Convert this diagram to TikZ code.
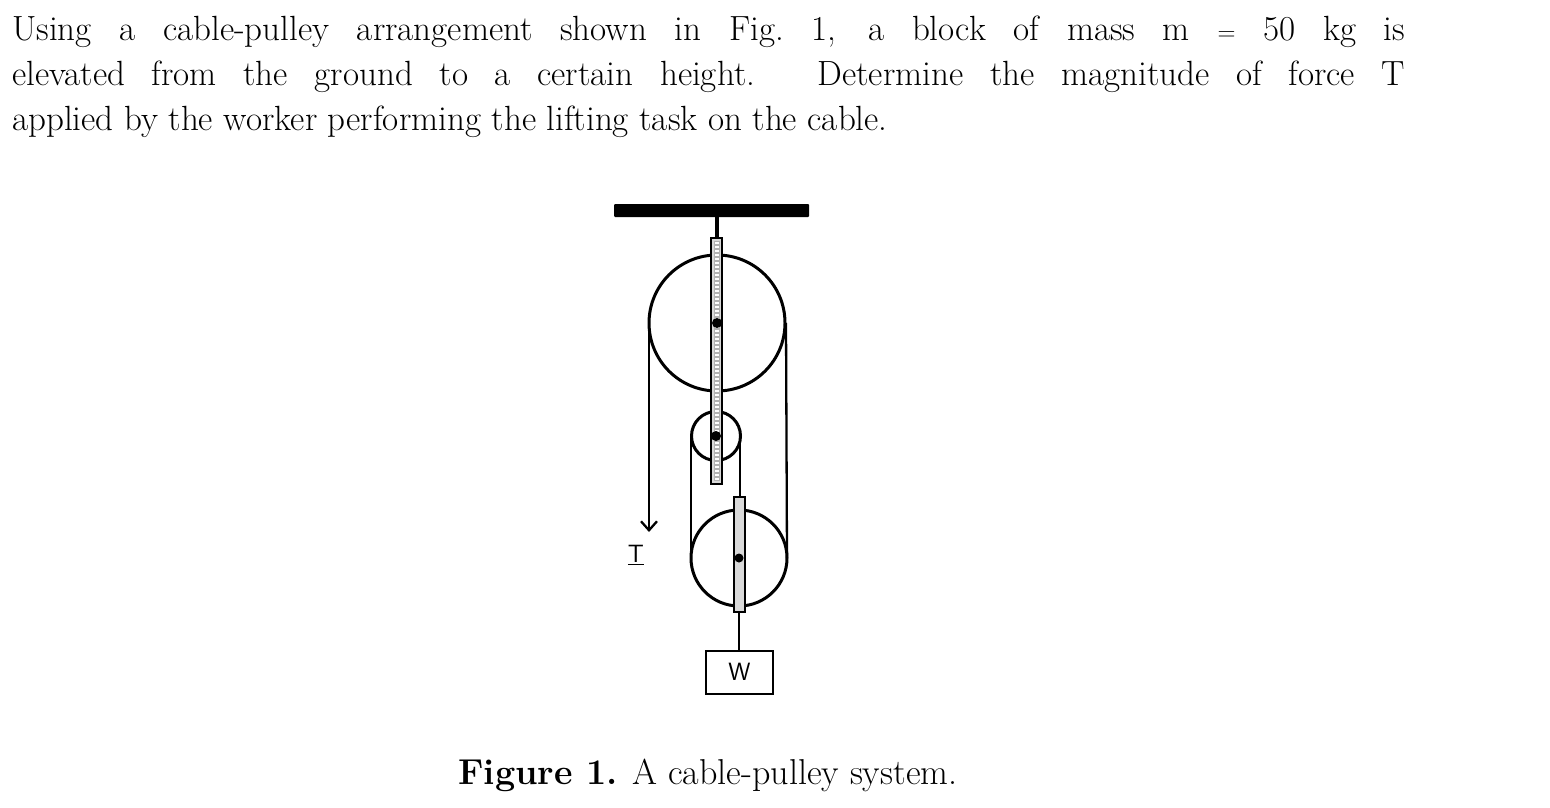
\documentclass[tikz,border=0pt]{standalone}
\usepackage{fontspec}
\usetikzlibrary{arrows.meta}
\begin{document}
\begin{tikzpicture}[x=1pt,y=-1pt,
  ln/.style={line width=3pt},
  rope/.style={line width=2.3pt},
  strip/.style={draw=black,line width=2.2pt},
  dot/.style={circle,fill=black,inner sep=0pt,minimum size=10pt}]
\useasboundingbox (0,0) rectangle (1550,808);
\node[anchor=north west,text width=1393pt,align=justify,inner sep=0pt,font=\fontsize{35}{45}\selectfont] (txt) at (12,16)
{Using a cable-pulley arrangement shown in Fig.~1, a block of mass m $=$ 50 kg is\linebreak elevated from the ground to a certain height. Determine the magnitude of force T\linebreak applied by the worker performing the lifting task on the cable.};
% ceiling
\fill[rounded corners=1pt] (614,204) rectangle (809,217);
\draw[line width=4pt] (717,217) -- (717,240);
% ropes
\draw[rope,-{Straight Barb[length=9pt,width=16pt,line width=2.3pt]}] (649,323) -- (649,532);
\draw[rope] (786,323) -- (787,558);
\draw[rope] (691,436) -- (691,558);
\draw[rope] (740,436) -- (740,497);
% pulleys
\draw[ln] (717,323) circle (68);
\draw[ln] (716,436) circle (24.5);
\draw[ln] (739,558) circle (48);
% strips
\draw[strip,fill=gray!30] (711,238) rectangle (722,484);
\fill[gray!60] (713.5,241) rectangle (719.5,481);
\foreach \y in {242,246,...,480} \fill[white] (714.5,\y) rectangle (718.5,\y+1.5);
\draw[strip,fill=gray!30] (734,497) rectangle (745,612);
\node[dot] (c1) at (717,323) {};
\node[dot] (c2) at (716,436) {};
\node[dot,minimum size=9pt] (c3) at (739,558) {};
% weight
\draw[rope] (739,612) -- (739,651);
\draw[line width=2.8pt] (706,651) rectangle (773,694);
\node[font=\sffamily\fontsize{25}{25}\selectfont] (w) at (739.5,672) {W};
\node[font=\sffamily\fontsize{25}{25}\selectfont] (t) at (636,555) {\underline{T}};
\node[font=\fontsize{36}{40}\selectfont] (cap) at (708,775) {\textbf{Figure 1.} A cable-pulley system.};
\end{tikzpicture}
\end{document}
